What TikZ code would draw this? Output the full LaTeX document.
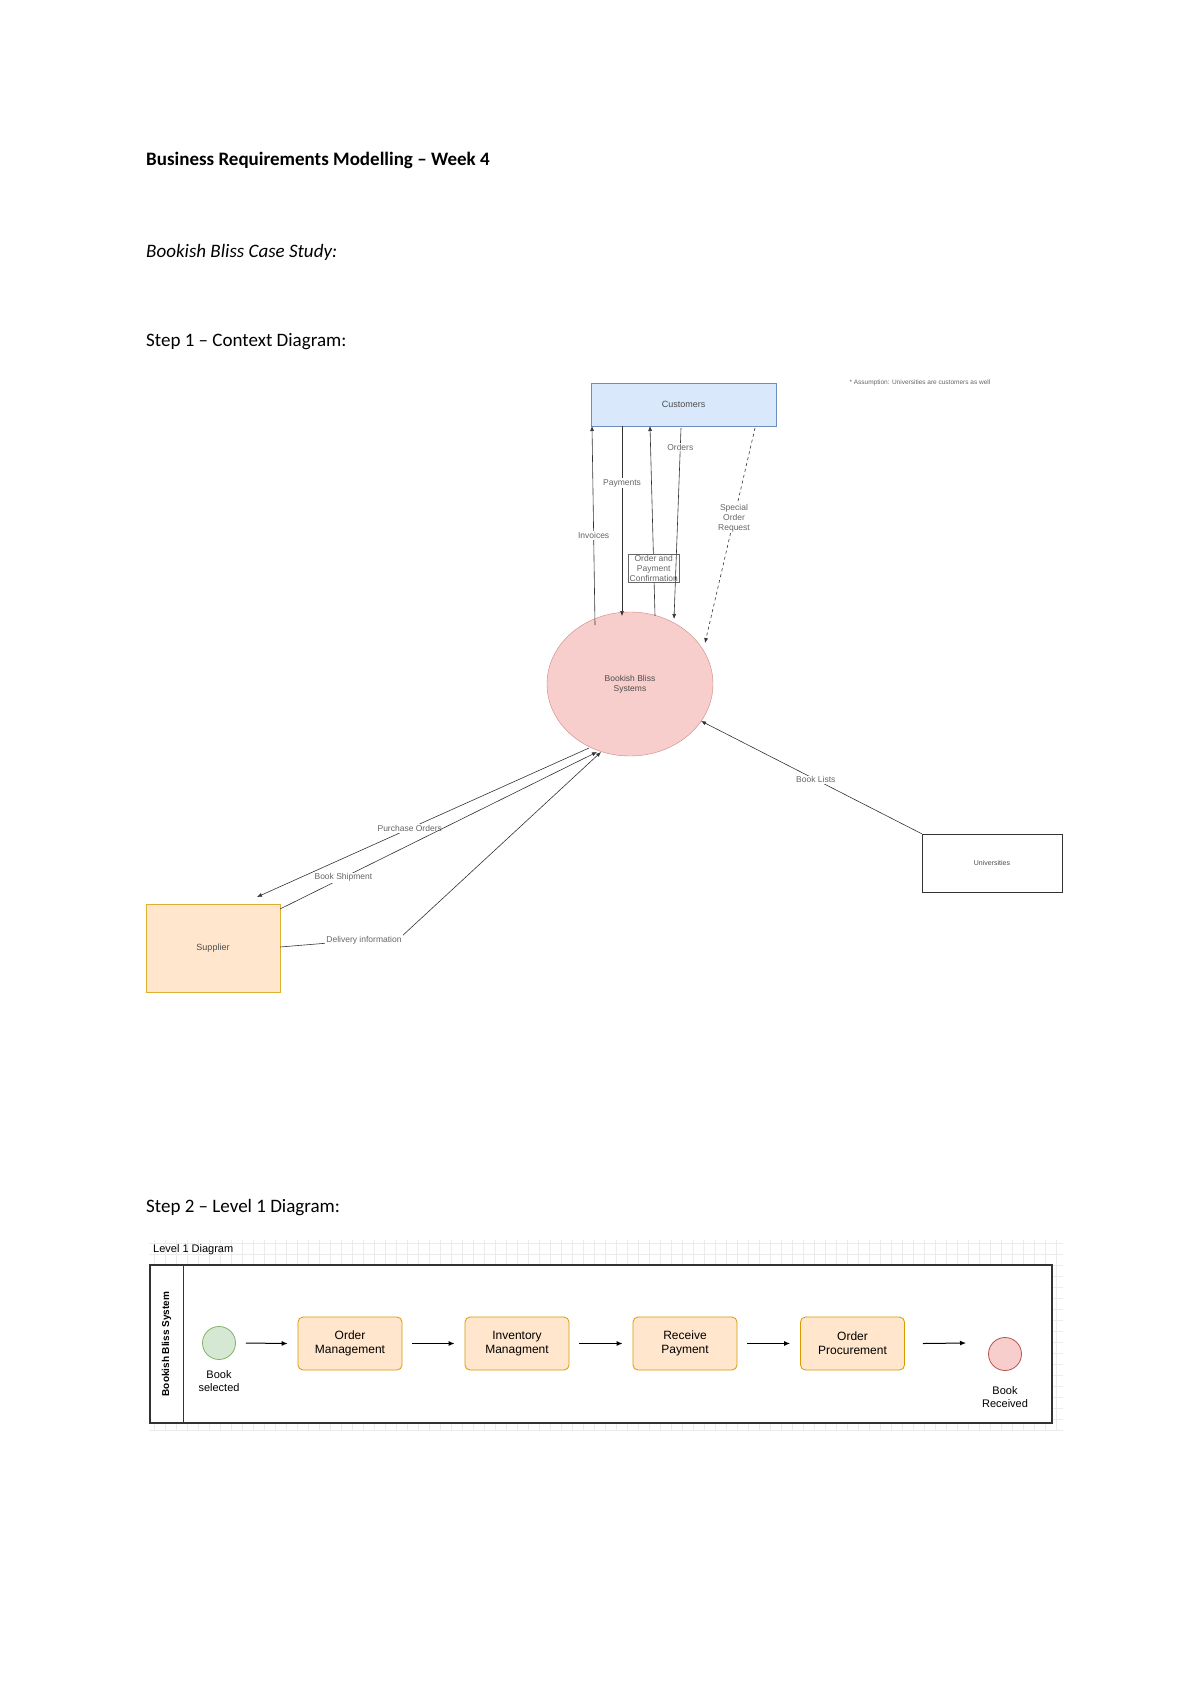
\documentclass[tikz,border=0pt]{standalone}
\usepackage{fontspec}
\setmainfont{Carlito}
\newfontfamily\dfont{Liberation Sans}
\usetikzlibrary{arrows.meta,shapes.geometric}
\definecolor{custfill}{HTML}{DAE8FC}
\definecolor{custline}{HTML}{6C8EBF}
\definecolor{supfill}{HTML}{FFE6CC}
\definecolor{supline}{HTML}{D79B00}
\definecolor{sysfill}{HTML}{F8CECC}
\definecolor{sysline}{HTML}{B85450}
\definecolor{startfill}{HTML}{D5E8D4}
\definecolor{startline}{HTML}{82B366}
\tikzset{
 x=1pt,y=-1pt,
 flow/.style={-{Latex[length=5pt,width=4pt]},black!80,line width=0.6pt},
 lbl/.style={font=\dfont\fontsize{8.5}{10}\selectfont,text=black!60,fill=white,inner sep=1pt,align=center},
 head/.style={font=\fontsize{19}{22}\selectfont,anchor=west,inner sep=0},
 proc/.style={draw=supline,fill=supfill,rounded corners=5pt,minimum width=104pt,minimum height=53pt,line width=0.8pt,font=\dfont\fontsize{12}{14}\selectfont,align=center},
 arr/.style={-{Latex[length=6pt,width=5pt]},line width=1pt},
}
\begin{document}
\begin{tikzpicture}
\useasboundingbox[fill=white] (0,0) rectangle (1200,1696);
\node[head,font=\bfseries\fontsize{19}{22}\selectfont] (t1) at (146,160) {Business Requirements Modelling -- Week 4};
\node[head,font=\itshape\fontsize{19}{22}\selectfont] (t2) at (146,252) {Bookish Bliss Case Study:};
\node[head] (t3) at (146,342) {Step 1 -- Context Diagram:};
% context
\node[draw=custline,fill=custfill,minimum width=185pt,minimum height=43pt,font=\dfont\fontsize{9}{10}\selectfont,text=black!70] (cust) at (683.5,404.5) {Customers};
\node[font=\dfont\fontsize{6.5}{8}\selectfont,text=black!60,anchor=west] (note) at (846,383) {* Assumption: Universities are customers as well};
\node[draw=sysline!70,fill=sysfill,ellipse,minimum width=166pt,minimum height=144pt,font=\dfont\fontsize{8.5}{10}\selectfont,text=black!70,align=center] (sys) at (630,684) {Bookish Bliss\\Systems};
\node[draw=supline!80,fill=supfill,minimum width=134pt,minimum height=88pt,font=\dfont\fontsize{9}{10}\selectfont,text=black!70] (sup) at (213,948) {Supplier};
\node[draw=black!80,fill=white,minimum width=140pt,minimum height=58pt,font=\dfont\fontsize{7}{8}\selectfont,text=black!70] (uni) at (992,863) {Universities};
\coordinate (i1) at (595,625); \coordinate (i2) at (592,426);
\draw[flow] (i1) -- node[lbl,pos=0.45]{Invoices} (i2);
\coordinate (p1) at (622,426); \coordinate (p2) at (622,616);
\draw[flow] (p1) -- node[lbl,pos=0.3]{Payments} (p2);
\coordinate (c1) at (655,616); \coordinate (c2) at (650,426);
\draw[flow] (c1) -- node[lbl,draw=black!60,pos=0.25]{Order and\\Payment\\Confirmation} (c2);
\coordinate (o1) at (681,428); \coordinate (o2) at (674,619);
\draw[flow] (o1) -- node[lbl,pos=0.1]{Orders} (o2);
\coordinate (s1) at (755,428); \coordinate (s2) at (705,643);
\draw[flow,dashed] (s1) -- node[lbl,pos=0.42]{Special\\Order\\Request} (s2);
\coordinate (b2) at (701,721);
\draw[flow] (uni.north west) -- node[lbl,pos=0.48]{Book Lists} (b2);
\coordinate (po1) at (589,748); \coordinate (po2) at (257,897);
\draw[flow] (po1) -- node[lbl,pos=0.54]{Purchase Orders} (po2);
\coordinate (bs1) at (280,909); \coordinate (bs2) at (597,752);
\draw[flow] (bs1) -- node[lbl,pos=0.2]{Book Shipment} (bs2);
\coordinate (d1) at (280,947); \coordinate (d2) at (601,752); \coordinate (dm) at (401,937);
\draw[flow] (d1) -- (dm) -- (d2);
\node[lbl] (dl) at (364,940) {Delivery information};
% level 1
\node[head] (t4) at (146,1208) {Step 2 -- Level 1 Diagram:};
\begin{scope}
\clip (149,1240) rectangle (1063,1430);
\draw[black!8,step=11pt] (143,1234) grid (1070,1440);
\end{scope}
\node[anchor=west,font=\dfont\fontsize{11}{12}\selectfont,inner sep=0] (l1) at (153,1250) {Level 1 Diagram};
\draw[black!80,line width=1.2pt,fill=white] (150,1265) rectangle (1052,1423);
\draw[black!80,line width=1pt] (183,1265) -- (183,1423);
\node[rotate=90,font=\dfont\bfseries\fontsize{10}{12}\selectfont] (lane) at (166.5,1344) {Bookish Bliss System};
\node[circle,draw=startline,fill=startfill,minimum size=33pt,line width=0.8pt] (st) at (219,1343) {};
\node[font=\dfont\fontsize{11}{13}\selectfont,align=center] (stl) at (219,1381) {Book\\selected};
\node[proc] (om) at (350,1343.5) {Order\\Management};
\node[proc] (im) at (517,1343.5) {Inventory\\Managment};
\node[proc] (rp) at (685,1343.5) {Receive\\Payment};
\node[proc] (op) at (852.5,1343.5) {Order\\Procurement};
\node[circle,draw=sysline,fill=sysfill,minimum size=33pt,line width=0.8pt] (en) at (1005,1354) {};
\node[font=\dfont\fontsize{11}{13}\selectfont,align=center] (enl) at (1005,1397) {Book\\Received};
\draw[arr] ([xshift=10pt]st.east) -- ([xshift=-10pt]om.west);
\draw[arr] ([xshift=10pt]om.east) -- ([xshift=-10pt]im.west);
\draw[arr] ([xshift=10pt]im.east) -- ([xshift=-10pt]rp.west);
\draw[arr] ([xshift=10pt]rp.east) -- ([xshift=-10pt]op.west);
\coordinate (ea) at (966,1343);
\draw[arr] ([xshift=18pt]op.east) -- (ea);
\end{tikzpicture}
\end{document}
